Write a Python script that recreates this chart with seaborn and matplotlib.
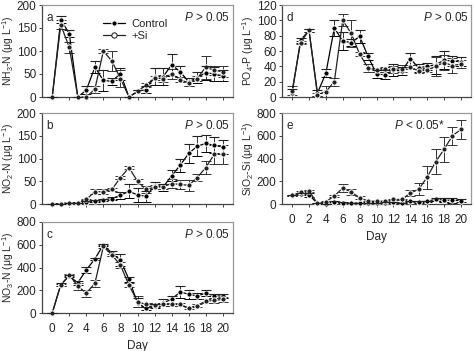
import numpy as np
import pandas as pd
import seaborn as sns
import matplotlib.pyplot as plt

days = list(range(21))

# NH3-N
nh3_ctrl = [0, 168, 138, 0, 15, 65, 36, 34, 51, 0, 12, 16, 44, 44, 70, 55, 33, 42, 53, 50, 46]
nh3_ctrl_err = [0, 8, 8, 0, 8, 13, 22, 8, 13, 0, 3, 8, 18, 18, 24, 12, 8, 12, 15, 15, 12]
nh3_si = [0, 157, 108, 0, 0, 17, 100, 78, 40, 0, 12, 26, 41, 40, 50, 38, 30, 40, 65, 58, 55]
nh3_si_err = [0, 10, 12, 0, 0, 8, 5, 22, 18, 0, 3, 5, 5, 8, 10, 5, 5, 5, 25, 10, 12]

# NO2-N
no2_ctrl = [0, 1, 2, 3, 5, 7, 9, 12, 19, 28, 20, 17, 40, 37, 62, 85, 111, 127, 133, 129, 125]
no2_ctrl_err = [0, 0, 0, 0, 1, 2, 2, 3, 8, 15, 15, 12, 8, 8, 12, 15, 20, 22, 18, 18, 15]
no2_si = [0, 1, 2, 3, 10, 27, 27, 32, 58, 80, 50, 32, 37, 38, 45, 43, 41, 58, 80, 109, 109]
no2_si_err = [0, 0, 0, 0, 2, 5, 5, 3, 3, 3, 6, 8, 5, 5, 10, 10, 12, 8, 15, 20, 20]

# NO3-N
no3_ctrl = [0, 250, 325, 265, 380, 475, 600, 525, 465, 295, 90, 40, 60, 90, 120, 185, 165, 150, 175, 150, 150]
no3_ctrl_err = [0, 10, 10, 20, 25, 10, 10, 20, 50, 25, 40, 10, 15, 30, 30, 50, 40, 25, 25, 20, 20]
no3_si = [0, 245, 335, 235, 175, 260, 585, 510, 420, 245, 100, 75, 70, 75, 75, 75, 45, 65, 105, 110, 120]
no3_si_err = [0, 10, 10, 30, 30, 30, 10, 10, 25, 15, 50, 10, 20, 10, 10, 10, 10, 10, 20, 20, 20]

# PO4-P
po4_ctrl = [5, 74, 87, 5, 31, 90, 73, 71, 79, 53, 30, 29, 35, 34, 50, 38, 40, 42, 48, 47, 46]
po4_ctrl_err = [5, 3, 2, 4, 5, 10, 12, 5, 8, 5, 5, 6, 8, 5, 8, 5, 5, 12, 12, 7, 6]
po4_si = [8, 71, 87, 3, 7, 20, 100, 83, 56, 38, 35, 36, 36, 37, 39, 34, 35, 40, 45, 41, 43]
po4_si_err = [6, 2, 2, 2, 7, 5, 8, 18, 3, 5, 3, 3, 5, 5, 3, 3, 3, 12, 10, 10, 5]

# SiO2-Si
sio2_ctrl = [75, 85, 80, 5, 0, 20, 12, 8, 10, 8, 10, 12, 15, 10, 25, 18, 25, 40, 35, 32, 30]
sio2_ctrl_err = [5, 10, 15, 3, 3, 5, 3, 3, 3, 3, 3, 3, 5, 3, 5, 5, 5, 15, 20, 20, 15]
sio2_si = [75, 105, 115, 5, 20, 70, 140, 105, 55, 25, 25, 25, 40, 40, 95, 130, 235, 370, 480, 600, 655]
sio2_si_err = [5, 10, 10, 3, 5, 10, 35, 30, 15, 5, 5, 5, 5, 5, 25, 55, 100, 110, 110, 80, 85]

panels = [
    ("a", "NH$_3$-N (μg L$^{-1}$)", nh3_ctrl, nh3_ctrl_err, nh3_si, nh3_si_err, 200, 50, "P > 0.05"),
    ("b", "NO$_2$-N (μg L$^{-1}$)", no2_ctrl, no2_ctrl_err, no2_si, no2_si_err, 200, 50, "P > 0.05"),
    ("c", "NO$_3$-N (μg L$^{-1}$)", no3_ctrl, no3_ctrl_err, no3_si, no3_si_err, 800, 200, "P > 0.05"),
    ("d", "PO$_4$-P (μg L$^{-1}$)", po4_ctrl, po4_ctrl_err, po4_si, po4_si_err, 120, 20, "P > 0.05"),
    ("e", "SiO$_2$-Si (μg L$^{-1}$)", sio2_ctrl, sio2_ctrl_err, sio2_si, sio2_si_err, 800, 200, "P < 0.05*"),
]

sns.set_style("white")
plt.rcParams['font.family'] = ['Liberation Sans', 'DejaVu Sans']
plt.rcParams['mathtext.fontset'] = 'custom'
plt.rcParams['mathtext.rm'] = 'Liberation Sans'
plt.rcParams['mathtext.it'] = 'Liberation Sans:italic'

W, H = 474, 351
fig = plt.figure(figsize=(W / 100, H / 100), dpi=100)

# pixel boxes (left, top, right, bottom)
boxes = {
    "a": (42, 5, 233, 97),
    "b": (42, 113, 233, 204),
    "c": (42, 222, 233, 313),
    "d": (282, 5, 471, 97),
    "e": (282, 113, 471, 204),
}
# where the P text ends (axes fraction)
p_right = {"a": 0.98, "b": 0.98, "c": 0.98, "d": 0.99, "e": 0.86}

for letter, ylab, c, ce, s, se, ymax, ystep, ptxt in panels:
    l, t, r, b = boxes[letter]
    ax = fig.add_axes([l / W, 1 - b / H, (r - l) / W, (b - t) / H])
    df = pd.DataFrame({
        "Day": days * 2,
        "value": c + s,
        "group": ["Control"] * 21 + ["+Si"] * 21,
    })
    for vals, errs in ((c, ce), (s, se)):
        ax.errorbar(days, vals, yerr=errs, fmt="none", ecolor="#333333", elinewidth=0.7,
                    capsize=3.5, capthick=0.7, zorder=1, clip_on=False)
    sns.lineplot(data=df, x="Day", y="value", hue="group", style="group",
                 hue_order=["Control", "+Si"], palette=["black", "#222222"],
                 markers=["o", "o"], dashes=False, ax=ax, lw=0.9, markersize=3.8,
                 legend=(letter == "a"), zorder=3)
    lines = [ln for ln in ax.lines if len(ln.get_xdata()) == 21]
    lines[0].set_markerfacecolor("black")
    lines[0].set_markeredgecolor("black")
    lines[1].set_markerfacecolor("white")
    lines[1].set_markeredgecolor("#222222")
    lines[1].set_markeredgewidth(0.8)
    lines[1].set_zorder(4)
    for ln in lines:
        ln.set_clip_on(False)
    ax.set_xlim(-1.2, 21.2)
    ax.set_ylim(0, ymax)
    ax.set_yticks(np.arange(0, ymax + 1, ystep))
    ax.set_xticks(range(0, 21, 2))
    ax.set_ylabel(ylab, fontsize=7.5, labelpad=0.5)
    ax.tick_params(axis="y", labelsize=8.5, length=2.5, width=0.7, direction="out",
                   pad=1.5, left=True, color="#444444")
    ax.tick_params(axis="x", labelsize=8.5, length=2.5, width=0.7, direction="out",
                   pad=4.5, bottom=True, color="#444444")
    if letter in ("c", "e"):
        ax.set_xlabel("Day", fontsize=8.5, labelpad=4)
    else:
        ax.set_xlabel("")
        ax.set_xticklabels([])
    for side in ("top", "right"):
        ax.spines[side].set_color("#999999")
        ax.spines[side].set_linewidth(0.9)
    for side in ("left", "bottom"):
        ax.spines[side].set_color("#444444")
        ax.spines[side].set_linewidth(0.9)
    ax.text(0.025, 0.92, letter, transform=ax.transAxes, fontsize=8.5, va="top", ha="left")
    ptex = "$\\it{P}$" + ptxt[1:]
    ax.text(p_right[letter], 0.93, ptex, transform=ax.transAxes, fontsize=8.5,
            va="top", ha="right")
    if letter == "a":
        handles, labels = ax.get_legend_handles_labels()
        handles[0].set_markerfacecolor("black")
        handles[1].set_markerfacecolor("white")
        handles[1].set_markeredgecolor("#222222")
        ax.legend(handles, labels, loc="upper left", bbox_to_anchor=(0.28, 0.93),
                  frameon=False, fontsize=8, handlelength=2.0, handletextpad=0.5,
                  labelspacing=0.15, borderpad=0.2)

fig.savefig("out.png", dpi=100)
